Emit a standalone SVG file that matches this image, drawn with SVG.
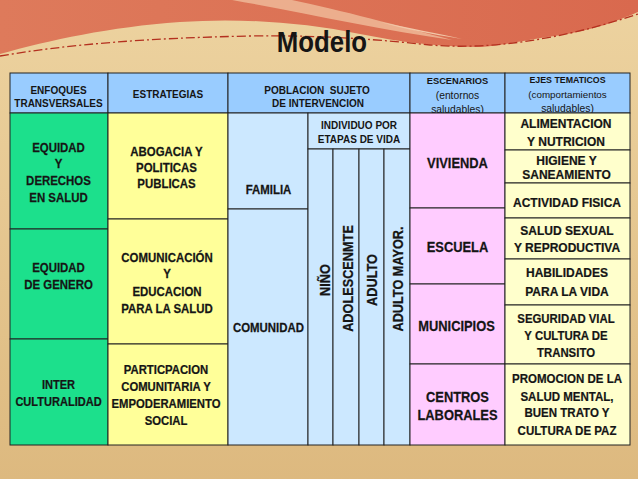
<svg xmlns="http://www.w3.org/2000/svg" width="638" height="479" viewBox="0 0 638 479">
<defs>
<linearGradient id="bg" x1="0" y1="0" x2="0" y2="1">
<stop offset="0" stop-color="#EDD3A0"/>
<stop offset="1" stop-color="#DDB97F"/>
</linearGradient>
<linearGradient id="red" x1="0" y1="0" x2="1" y2="0">
<stop offset="0" stop-color="#DE7A5B"/>
<stop offset="0.5" stop-color="#DC7255"/>
<stop offset="1" stop-color="#D9694E"/>
</linearGradient>
<style>
.c{stroke:#222;stroke-width:1}
.hd{fill:#99CCFF}
.gr{fill:#1CE08C}
.ye{fill:#FFFF99}
.lb{fill:#CCE8FF}
.pk{fill:#FFCCFF}
.ly{fill:#FFFFCC}
text{font-family:"Liberation Sans",Arial,sans-serif;font-weight:bold;fill:#151515;text-anchor:middle}
.h{font-size:10px}
.hs{font-size:9.3px}
.hn{font-size:10.3px;font-weight:normal}
.b{font-size:13.3px;stroke:#151515;stroke-width:0.25}
.bb{font-size:14.8px;stroke:#151515;stroke-width:0.25}
.e{font-size:12px;stroke:#151515;stroke-width:0.2}
</style>
</defs>
<rect x="0" y="0" width="638" height="479" fill="url(#bg)"/>
<path d="M0,0 H638 V12 C620,20 590,32 547,37 C520,41 500,46 480,47 C440,47 400,42 360,34 C300,22 240,18 180,22 C110,27 50,40 0,54 Z" fill="url(#red)"/>
<path d="M232,0 H292 C340,10 400,26 452,40 C380,30 300,12 232,0 Z" fill="#EEB898" opacity="0.85"/>
<path d="M380,22 C410,28 440,34 462,39 C430,34 405,29 380,22 Z" fill="#F2C7A8"/>
<path d="M0,56 C70,44 150,38 250,36 C330,35 380,40 430,45 C490,50 560,40 638,14" fill="none" stroke="#B4301F" stroke-width="1.3" stroke-dasharray="9,3,2,3"/>
<text x="0" y="0" transform="translate(322,52) scale(0.86,1)" style="font-size:30px">Modelo</text>

<g id="h-enfoques"><rect class="c hd" x="10" y="73" width="98" height="40"/><text class="h" x="58.5" y="94">ENFOQUES</text><text class="h" x="58.5" y="107.3">TRANSVERSALES</text></g>
<g id="h-estrategias"><rect class="c hd" x="108" y="73" width="120" height="40"/><text class="h" x="168" y="98.3">ESTRATEGIAS</text></g>
<g id="h-poblacion"><rect class="c hd" x="228" y="73" width="182" height="40"/><text class="h" x="317" y="93.5" xml:space="preserve">POBLACION  SUJETO</text><text class="h" x="318" y="107">DE INTERVENCION</text></g>
<g id="h-escenarios"><rect class="c hd" x="410" y="73" width="95" height="40"/><text class="hs" x="457.5" y="84">ESCENARIOS</text><text class="hn" x="457.5" y="98.5">(entornos</text><text class="hn" x="457.5" y="112.5">saludables)</text></g>
<g id="h-ejes"><rect class="c hd" x="505" y="73" width="125" height="40"/><text class="hs" x="567.5" y="83" style="font-size:8.8px">EJES TEMATICOS</text><text class="hn" x="567.5" y="97.5" style="font-size:9.8px">(comportamientos</text><text class="hn" x="567.5" y="111.5">saludables)</text></g>

<g id="equidad-derechos"><rect class="c gr" x="10" y="113" width="98" height="116"/><text class="b" transform="translate(58.5,151.7) scale(0.86,1)"><tspan x="0" y="0">EQUIDAD</tspan><tspan x="0" y="16.7">Y</tspan><tspan x="0" y="33.3">DERECHOS</tspan><tspan x="0" y="50">EN SALUD</tspan></text></g>
<g id="equidad-genero"><rect class="c gr" x="10" y="229" width="98" height="110"/><text class="b" transform="translate(58.5,272.3) scale(0.86,1)"><tspan x="0" y="0">EQUIDAD</tspan><tspan x="0" y="17">DE GENERO</tspan></text></g>
<g id="interculturalidad"><rect class="c gr" x="10" y="339" width="98" height="106"/><text class="b" transform="translate(58.5,389.3) scale(0.83,1)"><tspan x="0" y="0">INTER</tspan><tspan x="0" y="16.4">CULTURALIDAD</tspan></text></g>

<g id="abogacia"><rect class="c ye" x="108" y="113" width="120" height="106"/><text class="b" transform="translate(166.5,155.7) scale(0.86,1)"><tspan x="0" y="0">ABOGACIA Y</tspan><tspan x="0" y="16">POLITICAS</tspan><tspan x="0" y="32.6">PUBLICAS</tspan></text></g>
<g id="comunicacion"><rect class="c ye" x="108" y="219" width="120" height="125"/><text class="b" transform="translate(167,261.7) scale(0.86,1)"><tspan x="0" y="0">COMUNICACIÓN</tspan><tspan x="0" y="16.6">Y</tspan><tspan x="0" y="34">EDUCACION</tspan><tspan x="0" y="51">PARA LA SALUD</tspan></text></g>
<g id="participacion"><rect class="c ye" x="108" y="344" width="120" height="101"/><text class="b" transform="translate(166,374) scale(0.85,1)"><tspan x="0" y="0">PARTICPACION</tspan><tspan x="0" y="17">COMUNITARIA Y</tspan><tspan x="0" y="34.3">EMPODERAMIENTO</tspan><tspan x="0" y="51">SOCIAL</tspan></text></g>

<g id="familia"><rect class="c lb" x="228" y="113" width="80" height="96"/><text class="b" transform="translate(268.5,194.3) scale(0.86,1)">FAMILIA</text></g>
<g id="comunidad"><rect class="c lb" x="228" y="209" width="80" height="236"/><text class="b" transform="translate(268.5,332.3) scale(0.86,1)">COMUNIDAD</text></g>
<g id="individuo"><rect class="c lb" x="308" y="113" width="102" height="36"/><text class="h" x="359" y="129">INDIVIDUO POR</text><text class="h" x="359" y="143">ETAPAS DE VIDA</text></g>
<g id="nino"><rect class="c lb" x="308" y="149" width="25" height="296"/><text class="bb" transform="translate(330,280) rotate(-90) scale(0.86,1)">NIÑO</text></g>
<g id="adolescente"><rect class="c lb" x="333" y="149" width="26" height="296"/><text class="bb" transform="translate(352.7,278.5) rotate(-90) scale(0.86,1)">ADOLESCENMTE</text></g>
<g id="adulto"><rect class="c lb" x="359" y="149" width="25" height="296"/><text class="bb" transform="translate(376.7,280) rotate(-90) scale(0.86,1)">ADULTO</text></g>
<g id="adulto-mayor"><rect class="c lb" x="384" y="149" width="26" height="296"/><text class="bb" transform="translate(403,279) rotate(-90) scale(0.86,1)">ADULTO MAYOR.</text></g>

<g id="vivienda"><rect class="c pk" x="410" y="113" width="95" height="95"/><text class="bb" transform="translate(457.5,168.3) scale(0.87,1)">VIVIENDA</text></g>
<g id="escuela"><rect class="c pk" x="410" y="208" width="95" height="76"/><text class="bb" transform="translate(457.5,252.3) scale(0.87,1)">ESCUELA</text></g>
<g id="municipios"><rect class="c pk" x="410" y="284" width="95" height="80"/><text class="bb" transform="translate(456.5,330.7) scale(0.87,1)">MUNICIPIOS</text></g>
<g id="centros"><rect class="c pk" x="410" y="364" width="95" height="81"/><text class="bb" transform="translate(457.5,401.7) scale(0.87,1)"><tspan x="0" y="0">CENTROS</tspan><tspan x="0" y="18.3">LABORALES</tspan></text></g>

<g id="alimentacion"><rect class="c ly" x="505" y="113" width="125" height="37"/><text class="e" x="566" y="128"><tspan x="566" y="128">ALIMENTACION</tspan><tspan x="566" y="146">Y NUTRICION</tspan></text></g>
<g id="higiene"><rect class="c ly" x="505" y="150" width="125" height="33"/><text class="e" x="566.5" y="165"><tspan x="566.5" y="165">HIGIENE Y</tspan><tspan x="566.5" y="179">SANEAMIENTO</tspan></text></g>
<g id="actividad"><rect class="c ly" x="505" y="183" width="125" height="35"/><text class="e" x="567" y="206.5">ACTIVIDAD FISICA</text></g>
<g id="salud-sexual"><rect class="c ly" x="505" y="218" width="125" height="41"/><text class="e" x="567" y="235"><tspan x="567" y="235">SALUD SEXUAL</tspan><tspan x="567" y="252.3">Y REPRODUCTIVA</tspan></text></g>
<g id="habilidades"><rect class="c ly" x="505" y="259" width="125" height="46"/><text class="e" x="567" y="277.3"><tspan x="567" y="277.3">HABILIDADES</tspan><tspan x="567" y="296">PARA LA VIDA</tspan></text></g>
<g id="seguridad"><rect class="c ly" x="505" y="305" width="125" height="59"/><text class="e" transform="translate(566,322.7) scale(0.95,1)"><tspan x="0" y="0">SEGURIDAD VIAL</tspan><tspan x="0" y="17.3">Y CULTURA DE</tspan><tspan x="0" y="34">TRANSITO</tspan></text></g>
<g id="promocion"><rect class="c ly" x="505" y="364" width="125" height="81"/><text class="e" transform="translate(567,383.3) scale(0.96,1)"><tspan x="0" y="0">PROMOCION DE LA</tspan><tspan x="0" y="17.4">SALUD MENTAL,</tspan><tspan x="0" y="34">BUEN TRATO Y</tspan><tspan x="0" y="51.7">CULTURA DE PAZ</tspan></text></g>
<g id="connectors"></g>
</svg>
